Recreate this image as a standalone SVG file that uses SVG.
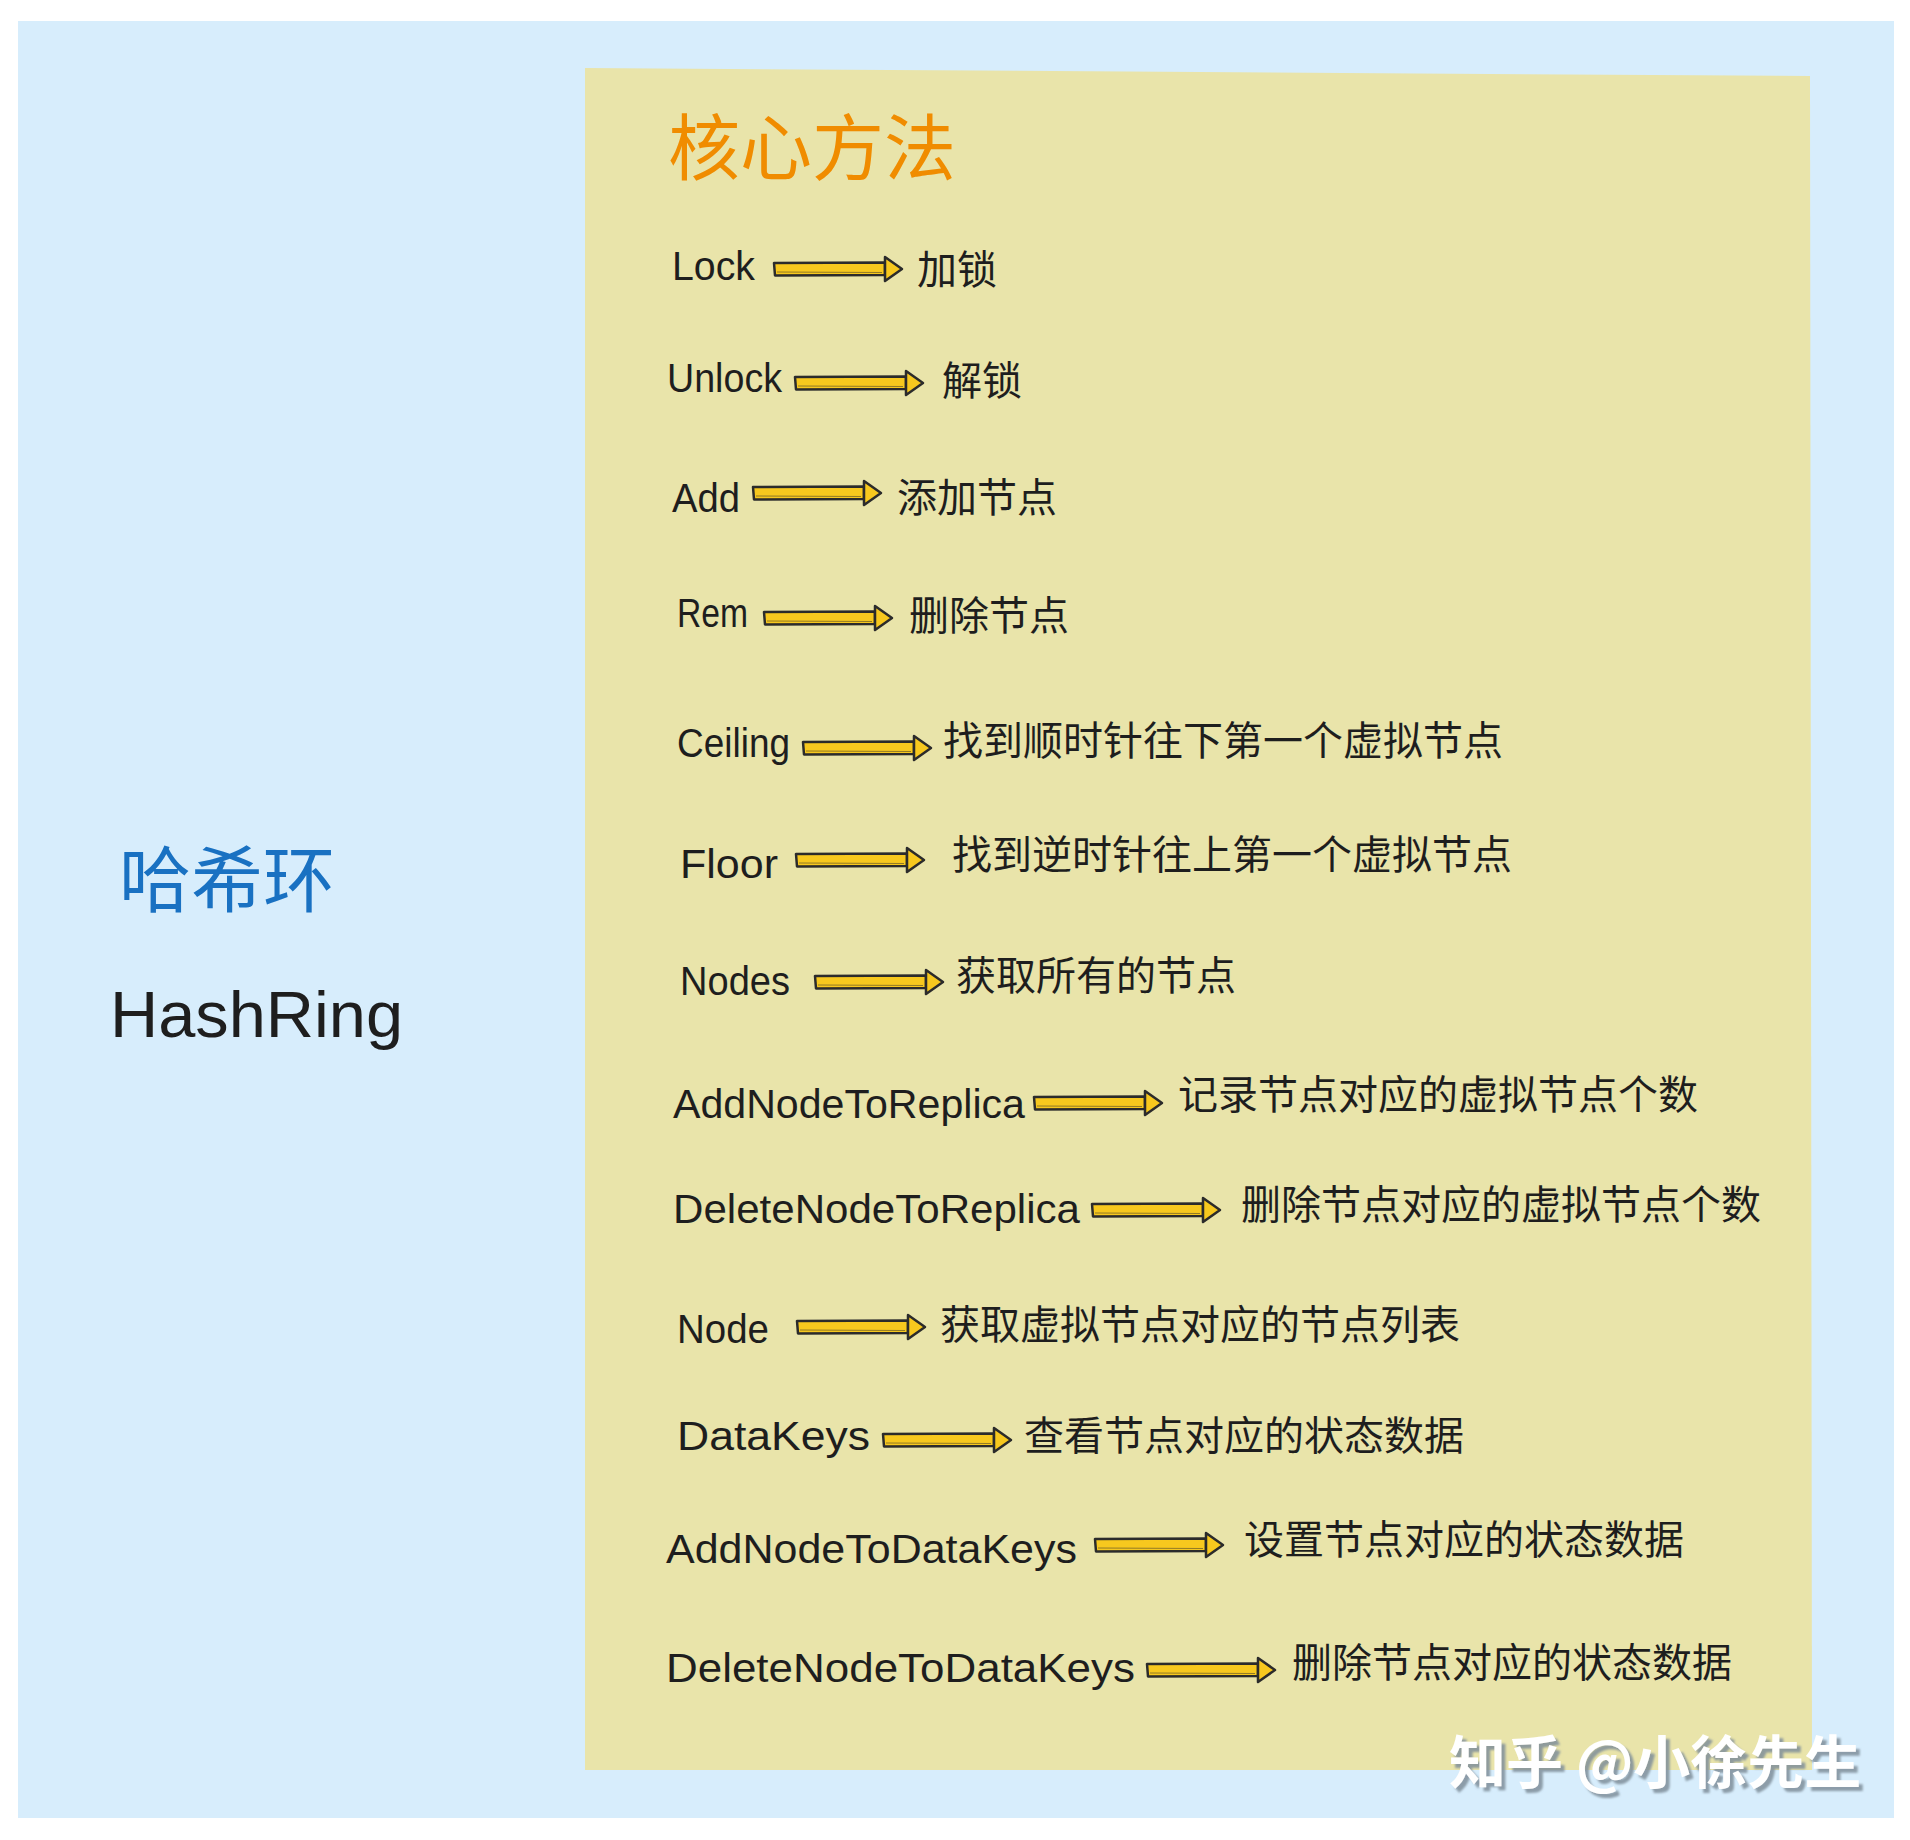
<svg xmlns="http://www.w3.org/2000/svg" xmlns:xlink="http://www.w3.org/1999/xlink" width="1910" height="1840" viewBox="0 0 1910 1840">
<style>
.en{font-family:"Liberation Sans","Noto Sans",sans-serif;font-size:40px;fill:#1e1e1e}
.zh{font-family:"Noto Sans CJK SC","Noto Sans",sans-serif;font-size:40px;fill:#1e1e1e}
.shaft{fill:#f7c81e;stroke:#2b2b2b;stroke-width:2.5;stroke-linejoin:round}
.wm{font-family:"Noto Sans CJK SC","Liberation Sans",sans-serif;font-size:57px;font-weight:700}
</style>
<defs>
<g id="arr">
<path class="shaft" d="M0,-6 L111,-6.5 L111,6 L1,6.5 Z"/>
<path class="shaft" d="M111,-12 L128,0 L111,12 Z"/>
<path d="M3,3 L108,3.5" stroke="#2b2b2b" stroke-width="1" fill="none" opacity="0.5"/>
</g>
<filter id="shadow" x="-5%" y="-20%" width="110%" height="150%">
<feDropShadow dx="4" dy="4" stdDeviation="0.8" flood-color="#7f8e9a" flood-opacity="0.85"/>
</filter>
</defs>
<rect x="0" y="0" width="1910" height="1840" fill="#ffffff"/>
<rect x="18" y="21" width="1876" height="1797" fill="#d7edfc"/>
<polygon points="585,68 1810,76 1812,1770 585,1770" fill="#e9e4aa"/>

<g id="title"><text x="668" y="174" font-family="'Noto Sans CJK SC',sans-serif" font-size="72" fill="#f08c00">核心方法</text></g>
<g id="hash-cn"><text x="119" y="906" font-family="'Noto Sans CJK SC',sans-serif" font-size="72" fill="#1971c2">哈希环</text></g>
<g id="hash-en"><text x="110" y="1037" font-family="'Liberation Sans',sans-serif" font-size="64" fill="#1e1e1e" textLength="293" lengthAdjust="spacingAndGlyphs">HashRing</text></g>

<g id="connectors">
<use xlink:href="#arr" href="#arr" x="774" y="269"/>
<use xlink:href="#arr" href="#arr" x="795" y="383"/>
<use xlink:href="#arr" href="#arr" x="753" y="493"/>
<use xlink:href="#arr" href="#arr" x="764" y="618"/>
<use xlink:href="#arr" href="#arr" x="803" y="748"/>
<use xlink:href="#arr" href="#arr" x="796" y="860"/>
<use xlink:href="#arr" href="#arr" x="815" y="982"/>
<use xlink:href="#arr" href="#arr" x="1034" y="1103"/>
<use xlink:href="#arr" href="#arr" x="1092" y="1210"/>
<use xlink:href="#arr" href="#arr" x="797" y="1327"/>
<use xlink:href="#arr" href="#arr" x="883" y="1440"/>
<use xlink:href="#arr" href="#arr" x="1095" y="1545"/>
<use xlink:href="#arr" href="#arr" x="1147" y="1670"/>
</g>

<g id="lock"><text class="en" x="672" y="280" textLength="83" lengthAdjust="spacingAndGlyphs">Lock</text><text class="zh" x="917" y="284">加锁</text></g>
<g id="unlock"><text class="en" x="667" y="392" textLength="115" lengthAdjust="spacingAndGlyphs">Unlock</text><text class="zh" x="942" y="395">解锁</text></g>
<g id="add"><text class="en" x="672" y="512" textLength="68" lengthAdjust="spacingAndGlyphs">Add</text><text class="zh" x="897" y="512">添加节点</text></g>
<g id="rem"><text class="en" x="677" y="627" textLength="71" lengthAdjust="spacingAndGlyphs">Rem</text><text class="zh" x="909" y="630">删除节点</text></g>
<g id="ceiling"><text class="en" x="677" y="757" textLength="113" lengthAdjust="spacingAndGlyphs">Ceiling</text><text class="zh" x="943" y="755">找到顺时针往下第一个虚拟节点</text></g>
<g id="floor"><text class="en" x="680" y="878" textLength="98" lengthAdjust="spacingAndGlyphs">Floor</text><text class="zh" x="952" y="869">找到逆时针往上第一个虚拟节点</text></g>
<g id="nodes"><text class="en" x="680" y="995" textLength="110" lengthAdjust="spacingAndGlyphs">Nodes</text><text class="zh" x="956" y="990">获取所有的节点</text></g>
<g id="addnodetoreplica"><text class="en" x="673" y="1118" textLength="352" lengthAdjust="spacingAndGlyphs">AddNodeToReplica</text><text class="zh" x="1178" y="1109">记录节点对应的虚拟节点个数</text></g>
<g id="deletenodetoreplica"><text class="en" x="673" y="1223" textLength="407" lengthAdjust="spacingAndGlyphs">DeleteNodeToReplica</text><text class="zh" x="1241" y="1219">删除节点对应的虚拟节点个数</text></g>
<g id="node"><text class="en" x="677" y="1343" textLength="92" lengthAdjust="spacingAndGlyphs">Node</text><text class="zh" x="940" y="1339">获取虚拟节点对应的节点列表</text></g>
<g id="datakeys"><text class="en" x="677" y="1450" textLength="193" lengthAdjust="spacingAndGlyphs">DataKeys</text><text class="zh" x="1024" y="1450">查看节点对应的状态数据</text></g>
<g id="addnodetodatakeys"><text class="en" x="666" y="1563" textLength="411" lengthAdjust="spacingAndGlyphs">AddNodeToDataKeys</text><text class="zh" x="1244" y="1554">设置节点对应的状态数据</text></g>
<g id="deletenodetodatakeys"><text class="en" x="666" y="1682" textLength="469" lengthAdjust="spacingAndGlyphs">DeleteNodeToDataKeys</text><text class="zh" x="1292" y="1677">删除节点对应的状态数据</text></g>

<g id="watermark">
<text class="wm" x="1449" y="1783" fill="#ffffff" filter="url(#shadow)">知乎 @小徐先生</text>
</g>
</svg>
